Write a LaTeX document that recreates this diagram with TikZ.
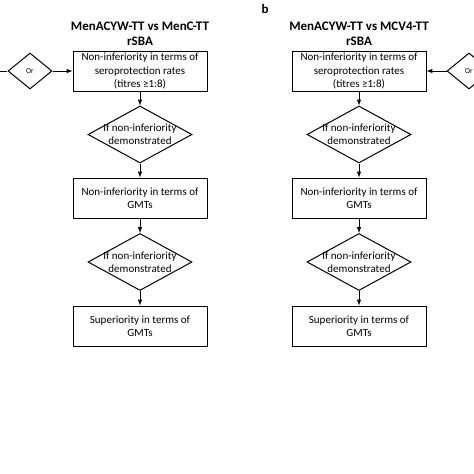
\documentclass[tikz,border=0pt]{standalone}
\usepackage{fontspec}
\setmainfont{Carlito}
\usepackage{tikz}
\usetikzlibrary{positioning, shapes.geometric}

\begin{document}
\begin{tikzpicture}[x=1pt,y=-1pt,>=latex,line width=1pt,
        box/.style={rectangle,draw=black,fill=white,minimum width=134pt,minimum height=40pt,align=center,font=\fontsize{11}{13.3}\selectfont,inner sep=1pt},
        cond/.style={diamond,draw=black,fill=white,minimum width=104pt,minimum height=57pt,inner sep=0pt},
        ordec/.style={diamond,draw=black,fill=white,minimum width=44pt,minimum height=36pt,inner sep=0pt,font=\fontsize{7.5}{8}\selectfont},
        head/.style={align=center,font=\bfseries\fontsize{13}{15.5}\selectfont}]

        \useasboundingbox (0,0) rectangle (474,474);

        % left column
        \node[head] (TA)  at (140,34) {MenACYW-TT vs MenC-TT\\rSBA};
        \node[box]  (A1)  at (140,71) {Non-inferiority in terms of\\seroprotection rates\\(titres ≥1:8)};
        \node[cond,label={[align=center,font=\fontsize{11}{13.3}\selectfont]center:If non-inferiority\\demonstrated}] (A2) at (140,134.5) {};
        \node[box]  (A3)  at (140,198) {Non-inferiority in terms of\\GMTs};
        \node[cond,label={[align=center,font=\fontsize{11}{13.3}\selectfont]center:If non-inferiority\\demonstrated}] (A4) at (140,262) {};
        \node[box]  (A5)  at (140,326) {Superiority in terms of\\GMTs};
        \node[ordec] (OA) at (30,71) {Or};
        \coordinate (inA) at (0,71);

        % right column
        \node[font=\bfseries\fontsize{13}{15}\selectfont] (lb) at (265,9) {b};
        \node[head] (TB)  at (359,34) {MenACYW-TT vs MCV4-TT\\rSBA};
        \node[box]  (B1)  at (359,71) {Non-inferiority in terms of\\seroprotection rates\\(titres ≥1:8)};
        \node[cond,label={[align=center,font=\fontsize{11}{13.3}\selectfont]center:If non-inferiority\\demonstrated}] (B2) at (359,134.5) {};
        \node[box]  (B3)  at (359,198) {Non-inferiority in terms of\\GMTs};
        \node[cond,label={[align=center,font=\fontsize{11}{13.3}\selectfont]center:If non-inferiority\\demonstrated}] (B4) at (359,262) {};
        \node[box]  (B5)  at (359,326) {Superiority in terms of\\GMTs};
        \node[ordec] (OB) at (469,71) {Or};

        \draw (inA) -- (OA);
        \path[->]
                  (OA) edge (A1)
                  (A1) edge (A2)
                  (A2) edge (A3)
                  (A3) edge (A4)
                  (A4) edge (A5)

                  (OB) edge (B1)
                  (B1) edge (B2)
                  (B2) edge (B3)
                  (B3) edge (B4)
                  (B4) edge (B5);
    \end{tikzpicture}
\end{document}
